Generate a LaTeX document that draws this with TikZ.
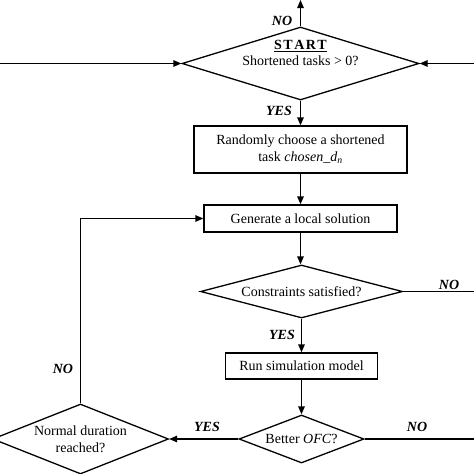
\documentclass[tikz,border=0pt]{standalone}
\usepackage{fontspec}
\setmainfont{Liberation Serif}
\usetikzlibrary{shapes.geometric,arrows.meta}
\begin{document}
\begin{tikzpicture}[x=1pt,y=-1pt,
  every node/.style={font=\fontsize{14}{17}\selectfont, inner sep=0pt},
  flow/.style={line width=1.3pt, -{Triangle[length=8pt,width=6.5pt]}},
  plain/.style={line width=1.3pt},
  boxst/.style={draw, line width=1.3pt, rectangle, align=center},
  dia/.style={draw, line width=1.3pt, diamond, align=center},
  txt/.style={align=center},
  lab/.style={font=\fontsize{14}{17}\selectfont\bfseries\itshape}]
\useasboundingbox (0,0) rectangle (474,474);
% nodes
\node[dia, aspect=3.2, minimum width=237pt, minimum height=73pt] (d1) at (300.5,63.5) {};
\node[txt, font=\fontsize{14}{16}\selectfont] (d1t) at (300.5,53) {\underline{\textbf{S\kern1.5pt T\kern1.5pt A\kern1.5pt R\kern1.5pt T}}\\Shortened tasks > 0?};
\node[boxst, minimum width=213pt, minimum height=47pt] (b1) at (300.5,149.5) {Randomly choose a shortened\\task \textit{chosen\_d}\textsubscript{\textit{n}}};
\node[boxst, minimum width=193pt, minimum height=27pt] (b2) at (300.5,218.5) {Generate a local solution};
\node[dia, aspect=3.8, minimum width=202pt, minimum height=53pt] (d2) at (301.5,291.5) {Constraints satisfied?};
\node[boxst, minimum width=152pt, minimum height=26pt] (b3) at (301.5,366) {Run simulation model};
\node[dia, aspect=2.6, minimum width=125pt, minimum height=48pt] (d3) at (301.5,439) {Better \textit{OFC}?};
\node[dia, aspect=2.5, minimum width=176pt, minimum height=70pt] (d4) at (80.5,439) {Normal duration\\reached?};
% free ends
\coordinate (topend) at (300.5,0);
\coordinate (lin) at (0,63.5);
\coordinate (rin) at (474,63.5);
\coordinate (out2) at (474,291.5);
\coordinate (out3) at (474,439);
% connectors
\draw[flow] (d1.north) -- (topend);
\draw[flow] (lin) -- (d1.west);
\draw[flow] (rin) -- (d1.east);
\draw[flow] (d1.south) -- (d1.south |- b1.north);
\draw[flow] (b1.south) -- (b1.south |- b2.north);
\draw[flow] (b2.south) -- (b2.south |- d2.north);
\draw[plain] (d2.east) -- (out2);
\draw[flow] (d2.south) -- (d2.south |- b3.north);
\draw[flow] (b3.south) -- (b3.south |- d3.north);
\draw[flow] (d3.west) -- (d4.east);
\draw[plain] (d3.east) -- (out3);
\draw[flow] (d4.north) |- (b2.west);
% labels
\node[lab] (l1) at (282,20.5) {NO};
\node[lab] (l2) at (279,110.5) {YES};
\node[lab] (l3) at (449,285) {NO};
\node[lab] (l4) at (282,334.5) {YES};
\node[lab] (l5) at (63,369) {NO};
\node[lab] (l6) at (207,427) {YES};
\node[lab] (l7) at (417,427) {NO};
\end{tikzpicture}
\end{document}
